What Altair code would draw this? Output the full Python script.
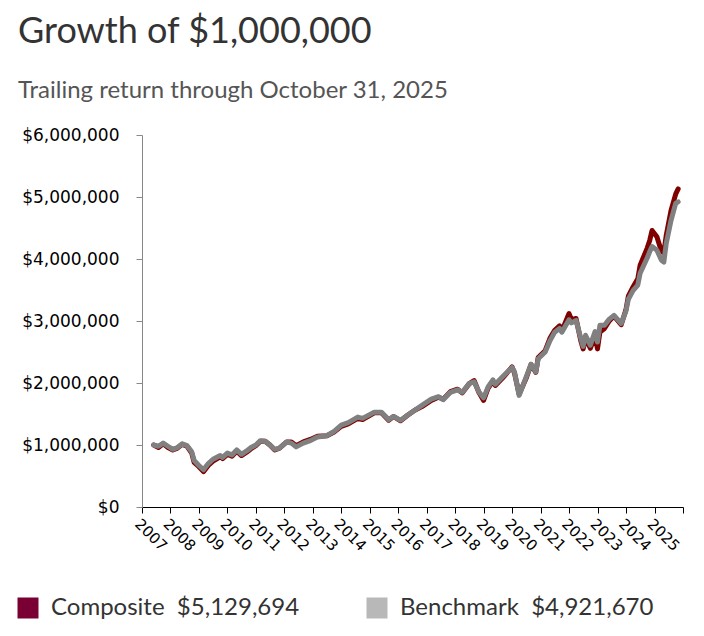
import altair as alt
import pandas as pd

# ---- data (values in $ millions) ----
months = [
    "2007-05", "2007-07", "2007-09", "2007-11", "2008-01", "2008-03", "2008-05", "2008-07",
    "2008-09", "2008-10", "2008-12", "2009-02", "2009-04", "2009-06", "2009-09", "2009-10",
    "2009-12", "2010-02", "2010-04", "2010-06", "2010-08", "2010-10", "2010-12", "2011-02",
    "2011-04", "2011-06", "2011-08", "2011-10", "2012-01", "2012-03", "2012-05", "2012-08",
    "2012-11", "2013-02", "2013-06", "2013-09", "2013-12", "2014-03", "2014-07", "2014-09",
    "2015-02", "2015-05", "2015-08", "2015-10", "2016-01", "2016-04", "2016-07", "2016-10",
    "2017-02", "2017-05", "2017-07", "2017-10", "2018-01", "2018-03", "2018-06", "2018-08",
    "2018-10", "2018-12", "2019-02", "2019-04", "2019-05", "2019-08", "2019-12", "2020-01",
    "2020-03", "2020-06", "2020-08", "2020-10", "2020-11", "2021-02", "2021-04", "2021-06",
    "2021-08", "2021-09", "2021-12", "2022-01", "2022-03", "2022-05", "2022-06", "2022-07",
    "2022-09", "2022-11", "2022-12", "2023-01", "2023-03", "2023-05", "2023-07", "2023-10",
    "2023-12", "2024-01", "2024-03", "2024-05", "2024-06", "2024-09", "2024-10", "2024-11",
    "2025-01", "2025-03", "2025-04", "2025-05", "2025-07", "2025-09", "2025-10",
]
benchmark = [
    1.00, 0.98, 1.03, 0.98, 0.93, 0.96, 1.02, 0.99,
    0.89, 0.75, 0.67, 0.60, 0.70, 0.77, 0.83, 0.80,
    0.87, 0.84, 0.92, 0.85, 0.90, 0.96, 1.00, 1.07,
    1.06, 1.00, 0.93, 0.95, 1.05, 1.03, 0.97, 1.03,
    1.07, 1.13, 1.15, 1.22, 1.32, 1.36, 1.45, 1.43,
    1.53, 1.53, 1.41, 1.46, 1.40, 1.48, 1.56, 1.64,
    1.74, 1.78, 1.73, 1.85, 1.89, 1.85, 1.99, 2.02,
    1.86, 1.76, 1.94, 2.05, 1.98, 2.10, 2.25, 2.18,
    1.80, 2.10, 2.30, 2.18, 2.39, 2.50, 2.68, 2.82,
    2.88, 2.82, 3.02, 2.97, 3.01, 2.72, 2.59, 2.77,
    2.61, 2.83, 2.66, 2.93, 2.93, 3.03, 3.09, 2.96,
    3.16, 3.35, 3.49, 3.58, 3.77, 4.02, 4.12, 4.20,
    4.14, 3.98, 3.95, 4.25, 4.62, 4.90, 4.921670,
]
composite = [
    1.00, 0.96, 1.02, 0.96, 0.92, 0.95, 1.01, 0.98,
    0.87, 0.72, 0.65, 0.57, 0.67, 0.74, 0.81, 0.78,
    0.85, 0.82, 0.90, 0.83, 0.88, 0.94, 0.99, 1.06,
    1.06, 1.00, 0.92, 0.95, 1.05, 1.05, 0.99, 1.05,
    1.09, 1.14, 1.15, 1.21, 1.30, 1.34, 1.43, 1.41,
    1.52, 1.52, 1.40, 1.46, 1.39, 1.48, 1.56, 1.62,
    1.72, 1.77, 1.74, 1.86, 1.90, 1.84, 1.99, 2.04,
    1.85, 1.72, 1.92, 2.03, 1.96, 2.08, 2.26, 2.16,
    1.82, 2.08, 2.30, 2.17, 2.41, 2.52, 2.72, 2.85,
    2.92, 2.84, 3.12, 3.02, 3.04, 2.68, 2.55, 2.72,
    2.56, 2.76, 2.55, 2.82, 2.88, 3.00, 3.08, 2.94,
    3.18, 3.40, 3.55, 3.68, 3.90, 4.18, 4.30, 4.46,
    4.36, 4.12, 4.10, 4.38, 4.78, 5.05, 5.129694,
]
series_names = ["Composite", "Benchmark"]
final_values = ["$5,129,694", "$4,921,670"]
y_ticks = [0, 1, 2, 3, 4, 5, 6]
tick_years = list(range(2007, 2027))

# ---- build table ----
dates = [pd.Period(m, freq="M").end_time.strftime("%Y-%m-%d") for m in months]
df = pd.DataFrame({
    "date": dates * 2,
    "value": [v * 1e6 for v in composite] + [v * 1e6 for v in benchmark],
    "series": ["Composite"] * len(dates) + ["Benchmark"] * len(dates),
})
legend_df = pd.DataFrame({"series": series_names})

x_enc = alt.X(
    "date:T",
    scale=alt.Scale(
        type="utc",
        domain=[alt.DateTime(year=2007, month=1, date=1, utc=True),
                alt.DateTime(year=2026, month=1, date=1, utc=True)],
    ),
    axis=alt.Axis(
        values=[alt.DateTime(year=y, month=1, date=1, utc=True) for y in tick_years],
        labelExpr="utcyear(datum.value) > 2025 ? '' : utcFormat(datum.value, '%Y')",
        labelAngle=45, labelAlign="left", labelBaseline="top",
        labelOverlap=False, labelBound=False, labelFlush=False,
        labelFont="DejaVu Sans", labelFontSize=15, labelColor="#000000",
        labelPadding=3, tickSize=6, tickColor="#000000", domainColor="#000000",
        grid=False, title=None,
    ),
)
y_enc = alt.Y(
    "value:Q",
    scale=alt.Scale(domain=[0, 6e6], nice=False),
    axis=alt.Axis(
        values=[v * 1e6 for v in y_ticks], format="$,.0f",
        labelOverlap=False,
        labelFont="DejaVu Sans", labelFontSize=17, labelColor="#000000",
        labelPadding=17, tickSize=6, tickColor="#888888", domainColor="#888888",
        grid=False, title=None,
    ),
)

base = alt.Chart(df)
comp = base.transform_filter(alt.datum.series == "Composite").mark_line(
    strokeWidth=5, strokeCap="round", strokeJoin="round", color="#800000"
).encode(x=x_enc, y=y_enc)
bench = base.transform_filter(alt.datum.series == "Benchmark").mark_line(
    strokeWidth=5, strokeCap="round", strokeJoin="round", color="#808080"
).encode(x=x_enc, y=y_enc)

label_expr = (
    f"datum.label == 'Composite' ? 'Composite \u00a0{final_values[0]}' : "
    f"'Benchmark \u00a0{final_values[1]}'"
)
legend_layer = alt.Chart(legend_df).mark_square(opacity=0).encode(
    fill=alt.Fill(
        "series:N",
        scale=alt.Scale(domain=series_names, range=["#7a0034", "#b8b8b8"]),
        sort=series_names,
        legend=alt.Legend(
            title=None, orient="none", legendX=-126, legendY=461,
            direction="horizontal", columns=2, symbolType="square", symbolSize=441,
            symbolOpacity=1, symbolStrokeWidth=0, labelFont="Lato", labelFontSize=24,
            labelColor="#333333", labelOffset=11, columnPadding=65, padding=0,
            labelLimit=400, labelExpr=label_expr,
        ),
    )
)

chart = alt.layer(comp, bench, legend_layer).properties(
    width=541,
    height=372,
    autosize=alt.AutoSizeParams(type="none"),
    padding={"left": 142, "top": 135, "right": 21, "bottom": 129},
    title=alt.TitleParams(
        text="Growth of $1,000,000",
        subtitle="Trailing return through October 31, 2025",
        anchor="start", frame="bounds", orient="top", dx=2,
        font="Lato", fontSize=36, fontWeight="normal", color="#333333",
        subtitleFont="Lato", subtitleFontSize=24, subtitleColor="#555555",
        subtitlePadding=28, offset=22,
    ),
).configure_view(stroke=None)

chart.save("out.html", embed_options={"renderer": "svg", "actions": False})
